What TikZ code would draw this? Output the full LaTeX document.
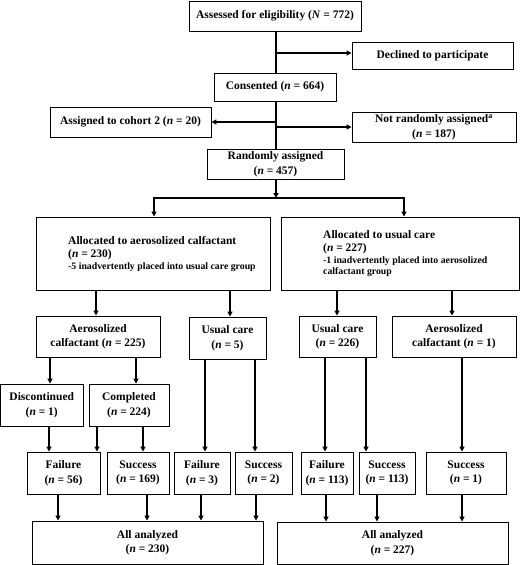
\documentclass[tikz,border=0pt]{standalone}
\usepackage{fontspec}
\setmainfont{Liberation Serif}
\usetikzlibrary{arrows.meta}
\newcommand\nn{\textit{n}}
\newcommand\smtxt{\fontsize{9.8}{11}\selectfont}
\newcommand\mybox[6]{\node[box, minimum width={(#4)-(#2)}, minimum height={(#5)-(#3)}] (#1) at ({((#2)+(#4))/2},{((#3)+(#5))/2}) {#6};}
\begin{document}
\begin{tikzpicture}[x=1pt,y=-1pt,
  box/.style={draw, line width=0.9pt, inner sep=0pt, align=center, font=\bfseries\fontsize{11.5}{14.5}\selectfont},
  txt/.style={inner sep=0pt, align=left, anchor=west, font=\bfseries\fontsize{11.5}{13.5}\selectfont},
  ln/.style={line width=1.6pt},
  arr/.style={line width=1.6pt, -{Triangle[length=5pt,width=5pt]}}]
\useasboundingbox (0,0) rectangle (520,565);
% level 0-2
\mybox{elig}{189}{1}{361}{31}{Assessed for eligibility (\textit{N} = 772)}
\mybox{decl}{352}{42}{513}{69}{Declined to participate}
\mybox{cons}{214}{73}{336}{101}{Consented (\nn{} = 664)}
\mybox{coh}{50}{107}{211}{137}{Assigned to cohort 2 (\nn{} = 20)}
\mybox{notr}{352}{112}{516}{142}{Not randomly assigned\textsuperscript{a}\\(\nn{} = 187)}
\mybox{rand}{207}{149}{344}{179}{Randomly assigned\\(\nn{} = 457)}
% allocation
\mybox{allocL}{36}{217}{270}{290}{}
\mybox{allocR}{281}{217}{519}{290}{}
\node[txt] (tL) at (68,254) {Allocated to aerosolized calfactant\\(\nn{} = 230)\\[-1.5pt]{\smtxt -5 inadvertently placed into usual care group}};
\node[txt] (tR) at (323,253.5) {Allocated to usual care\\(\nn{} = 227)\\[-1.5pt]{\smtxt -1 inadvertently placed into aerosolized}\\[-2.5pt]{\smtxt calfactant group}};
% level 3
\mybox{aer225}{36}{316}{160}{357}{Aerosolized\\calfactant (\nn{} = 225)}
\mybox{uc5}{189}{317}{266}{359}{Usual care\\(\nn{} = 5)}
\mybox{uc226}{299}{316}{376}{357}{Usual care\\(\nn{} = 226)}
\mybox{aer1}{392}{316}{516}{357}{Aerosolized\\calfactant (\nn{} = 1)}
% level 4
\mybox{disc}{0.5}{384}{83}{426}{Discontinued\\(\nn{} = 1)}
\mybox{comp}{89}{384}{169}{426}{Completed\\(\nn{} = 224)}
% level 5
\mybox{f56}{27}{452}{100}{494}{Failure\\(\nn{} = 56)}
\mybox{s169}{107}{452}{169}{494}{Success\\(\nn{} = 169)}
\mybox{f3}{174}{452}{230}{494}{Failure\\(\nn{} = 3)}
\mybox{s2}{235}{452}{292}{494}{Success\\(\nn{} = 2)}
\mybox{f113}{301}{452}{353}{494}{Failure\\(\nn{} = 113)}
\mybox{s113}{359}{452}{415}{494}{Success\\(\nn{} = 113)}
\mybox{s1}{426}{452}{506}{494}{Success\\(\nn{} = 1)}
% level 6
\mybox{allL}{32}{521}{263}{564}{All analyzed\\(\nn{} = 230)}
\mybox{allR}{277}{522}{508}{564}{All analyzed\\(\nn{} = 227)}
% connectors top
\draw[ln] (elig.south -| 276,0) -- (cons.north -| 276,0);
\coordinate (b1) at (276,53);
\draw[arr] (b1) -- (decl.west |- b1);
\draw[ln] (cons.south -| 276,0) -- (rand.north -| 276,0);
\coordinate (b2) at (276,122);
\coordinate (b3) at (276,127);
\draw[arr] (b2) -- (coh.east |- b2);
\draw[arr] (b3) -- (notr.west |- b3);
\coordinate (split) at (276,198);
\draw[arr] (rand.south -| split) -- (split);
\draw[arr] (split) -| (allocL.north -| 154,0);
\draw[arr] (split) -| (allocR.north -| 404,0);
% allocation to level 3
\draw[arr] (allocL.south -| 96,0) -- (aer225.north -| 96,0);
\draw[arr] (allocL.south -| 230,0) -- (uc5.north -| 230,0);
\draw[arr] (allocR.south -| 337,0) -- (uc226.north -| 337,0);
\draw[arr] (allocR.south -| 452,0) -- (aer1.north -| 452,0);
% level 3 to 4
\draw[arr] (aer225.south -| 50,0) -- (disc.north -| 50,0);
\draw[arr] (aer225.south -| 136,0) -- (comp.north -| 136,0);
% to level 5
\draw[arr] (disc.south -| 49,0) -- (f56.north -| 49,0);
\draw[arr] (comp.south -| 97,0) -- (f56.north -| 97,0);
\draw[arr] (comp.south -| 143,0) -- (s169.north -| 143,0);
\draw[arr] (uc5.south -| 205,0) -- (f3.north -| 205,0);
\draw[arr] (uc5.south -| 255,0) -- (s2.north -| 255,0);
\draw[arr] (uc226.south -| 325,0) -- (f113.north -| 325,0);
\draw[arr] (uc226.south -| 366,0) -- (s113.north -| 366,0);
\draw[arr] (aer1.south -| 462,0) -- (s1.north -| 462,0);
% to level 6
\draw[arr] (f56.south -| 58,0) -- (allL.north -| 58,0);
\draw[arr] (s169.south -| 147,0) -- (allL.north -| 147,0);
\draw[arr] (f3.south -| 201,0) -- (allL.north -| 201,0);
\draw[arr] (s2.south -| 256,0) -- (allL.north -| 256,0);
\draw[arr] (f113.south -| 326,0) -- (allR.north -| 326,0);
\draw[arr] (s113.south -| 377,0) -- (allR.north -| 377,0);
\draw[arr] (s1.south -| 462,0) -- (allR.north -| 462,0);
\end{tikzpicture}
\end{document}
